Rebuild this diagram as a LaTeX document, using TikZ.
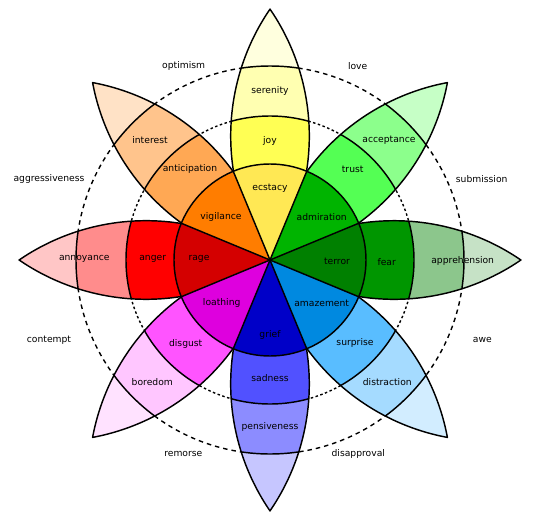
\documentclass[tikz,border=0pt]{standalone}
\usepackage{fontspec}
\setmainfont{DejaVu Sans}
\definecolor{ecs}{HTML}{FFE854}\definecolor{joy}{HTML}{FFFF54}\definecolor{ser}{HTML}{FFFFB1}\definecolor{joyT}{HTML}{FFFFDE}
\definecolor{adm}{HTML}{00B400}\definecolor{tru}{HTML}{54FF54}\definecolor{acc}{HTML}{8CFF8C}\definecolor{truT}{HTML}{C6FFC6}
\definecolor{ter}{HTML}{008000}\definecolor{fea}{HTML}{009600}\definecolor{app}{HTML}{8CC68C}\definecolor{feaT}{HTML}{C6E2C6}
\definecolor{ama}{HTML}{0089E0}\definecolor{sur}{HTML}{59BDFF}\definecolor{dis}{HTML}{A5DBFF}\definecolor{surT}{HTML}{D2EDFF}
\definecolor{gri}{HTML}{0000C8}\definecolor{sad}{HTML}{5151FF}\definecolor{pen}{HTML}{8C8CFF}\definecolor{sadT}{HTML}{C6C6FF}
\definecolor{loa}{HTML}{DE00DE}\definecolor{dsg}{HTML}{FF54FF}\definecolor{bor}{HTML}{FFC6FF}\definecolor{dsgT}{HTML}{FFE2FF}
\definecolor{rag}{HTML}{D40000}\definecolor{ang}{HTML}{FF0000}\definecolor{ann}{HTML}{FF8C8C}\definecolor{angT}{HTML}{FFC6C6}
\definecolor{vig}{HTML}{FF7D00}\definecolor{ant}{HTML}{FFA854}\definecolor{int}{HTML}{FFC48C}\definecolor{antT}{HTML}{FFE2C6}
\newcommand\petalopen{(88.71pt,36.51pt) arc[start angle=99.04, end angle=55.59, radius=224.6pt] arc[start angle=-55.59, end angle=-99.04, radius=224.6pt]}
\newcommand\petalclosed{(88.71pt,36.51pt) arc[start angle=99.04, end angle=55.59, radius=224.6pt] arc[start angle=-55.59, end angle=-99.04, radius=224.6pt] -- (0,0) -- cycle}
\tikzset{
  petalline/.style={line width=1.45pt, black, line join=round},
  lab/.style={font=\fontsize{9.2}{10}\selectfont, inner sep=0pt, text=black},
}
\begin{document}
\begin{tikzpicture}[x=1pt,y=1pt]
\useasboundingbox (-270,-268) rectangle (265,260);
\fill[white] (-270,-268) rectangle (265,260);
\draw[line width=1.4pt, dash pattern=on 4.5pt off 4pt] (0,0) circle[radius=194pt];
\draw[line width=1.4pt, dash pattern=on 2.5pt off 2.5pt] (0,0) circle[radius=144pt];
\foreach \a/\ci/\cm/\co/\ct in {90/ecs/joy/ser/joyT, 45/adm/tru/acc/truT, 0/ter/fea/app/feaT, -45/ama/sur/dis/surT, -90/gri/sad/pen/sadT, -135/loa/dsg/bor/dsgT, 180/rag/ang/ann/angT, 135/vig/ant/int/antT} {
  \begin{scope}[rotate=\a]
    \begin{scope}
      \clip \petalclosed;
      \fill[\ct] (0,0) circle[radius=260pt];
      \fill[\co] (0,0) circle[radius=194pt];
      \fill[\cm] (0,0) circle[radius=144pt];
      \draw[petalline] (0,0) circle[radius=194pt] (0,0) circle[radius=144pt];
    \end{scope}
    \draw[petalline] \petalopen;
    \fill[\ci] (0,0) -- (-22.5:96pt) arc[start angle=-22.5, end angle=22.5, radius=96pt] -- cycle;
  \end{scope}
}
\foreach \a in {22.5,67.5,...,337.5} \draw[petalline] (0,0) -- (\a:96pt);
\draw[petalline] (0,0) circle[radius=96pt];
% inner labels
\node[lab] (ecstacy) at (0,72) {ecstacy};
\node[lab] (admiration) at (51.7,43.3) {admiration};
\node[lab] (terror) at (67,-1) {terror};
\node[lab] (amazement) at (51.7,-43.3) {amazement};
\node[lab] (grief) at (0,-75) {grief};
\node[lab] (loathing) at (-48.3,-43.3) {loathing};
\node[lab] (rage) at (-71,0.7) {rage};
\node[lab] (vigilance) at (-49,43.3) {vigilance};
% middle labels
\node[lab] (joy) at (0,119) {joy};
\node[lab] (trust) at (82.7,91) {trust};
\node[lab] (fear) at (116.7,-1.7) {fear};
\node[lab] (surprise) at (85,-83.3) {surprise};
\node[lab] (sadness) at (0,-117.7) {sadness};
\node[lab] (disgust) at (-84.3,-84) {disgust};
\node[lab] (anger) at (-117.3,0.7) {anger};
\node[lab] (anticipation) at (-80,90.7) {anticipation};
% outer labels
\node[lab] (serenity) at (0,169.3) {serenity};
\node[lab] (acceptance) at (119,120) {acceptance};
\node[lab] (apprehension) at (192.7,-0.7) {apprehension};
\node[lab] (distraction) at (117.3,-121.7) {distraction};
\node[lab] (pensiveness) at (0,-167.3) {pensiveness};
\node[lab] (boredom) at (-117.7,-121.7) {boredom};
\node[lab] (annoyance) at (-185.7,0.7) {annoyance};
\node[lab] (interest) at (-120,120) {interest};
% dyads
\node[lab] (optimism) at (-86.3,194) {optimism};
\node[lab] (love) at (87.7,194) {love};
\node[lab] (submission) at (211.7,80.7) {submission};
\node[lab] (awe) at (212.3,-80) {awe};
\node[lab] (disapproval) at (88.3,-194.3) {disapproval};
\node[lab] (remorse) at (-86.7,-194.3) {remorse};
\node[lab] (contempt) at (-221,-80) {contempt};
\node[lab] (aggressiveness) at (-221,80.7) {aggressiveness};
\end{tikzpicture}
\end{document}
